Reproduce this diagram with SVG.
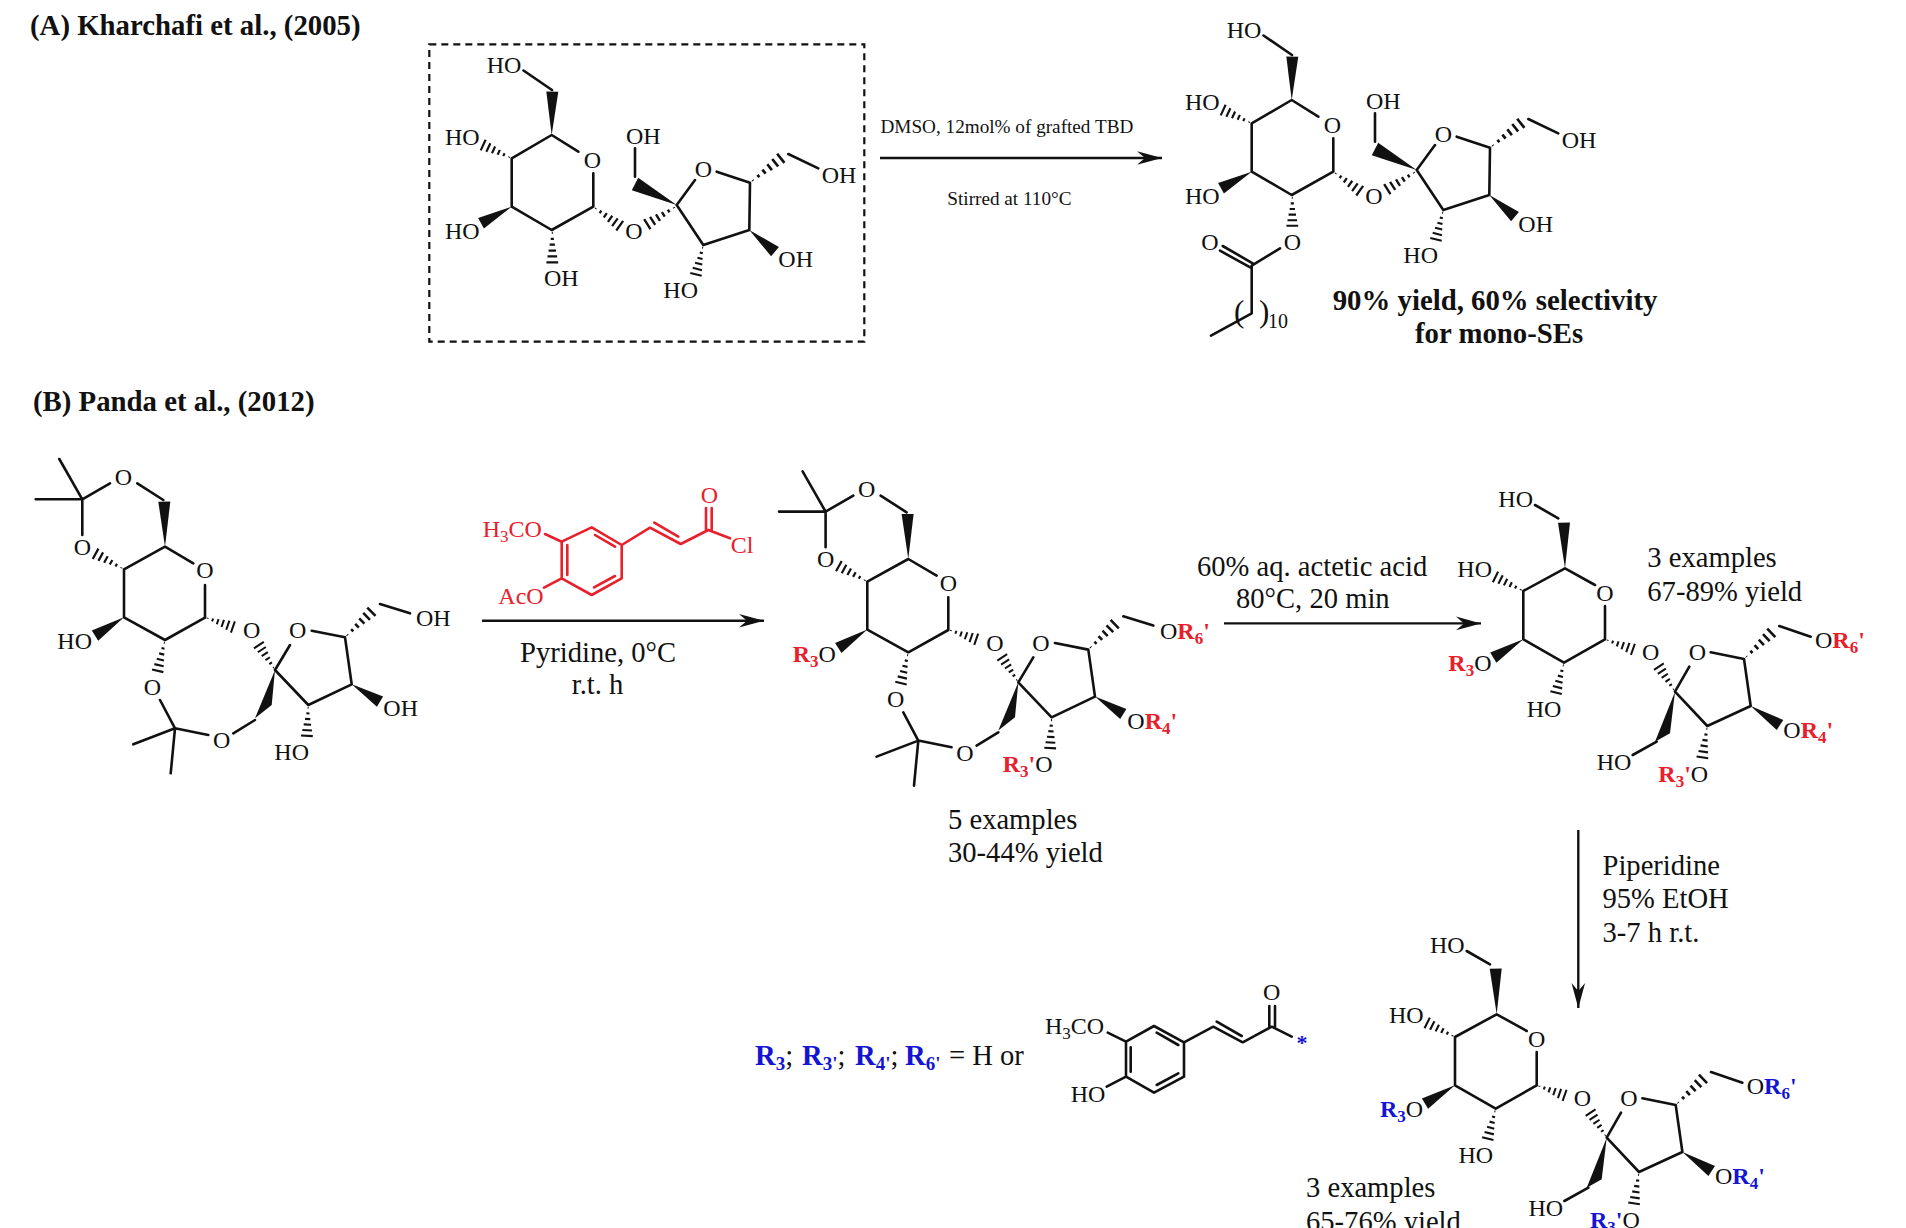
<svg xmlns="http://www.w3.org/2000/svg" width="1906" height="1228" viewBox="0 0 1906 1228">
<style>
text{font-family:"Liberation Serif","Times New Roman",serif;fill:#111}
.a{font-size:24px}
.m{font-size:24px;text-anchor:middle}
.t{font-size:28.6px}
.b{font-size:28.8px;font-weight:bold}
.c{font-size:19.2px}
.r{font-weight:bold;fill:#e8202c}
.u{font-weight:bold;fill:#1414d2}
.s{font-size:17px}
.q{font-size:19px}
.k{fill:none;stroke:#111;stroke-width:2.6;stroke-linecap:round;stroke-linejoin:round}
.ke{fill:none;stroke:#e8202c;stroke-width:2.6;stroke-linecap:round;stroke-linejoin:round}
.rt{fill:#e8202c}
.ar{fill:none;stroke:#111;stroke-width:2.4}
.f{fill:#111;stroke:none}
</style>
<defs>
<path id="w" d="M0 0L1-1V1Z"/>
<path id="h" d="M.05-.08h.06v.16h-.06zM.21-.26h.06v.52h-.06zM.37-.44h.06v.88h-.06zM.53-.62h.06v1.24h-.06zM.69-.8h.06v1.6h-.06zM.85-.98h.06v1.96h-.06z"/>
<marker id="arrow" markerUnits="userSpaceOnUse" markerWidth="26" markerHeight="16" refX="25" refY="8" orient="auto"><path d="M0 1.2L25 8L0 14.8L8 8Z" fill="#111"/></marker>
<g id="coreA" class="f">
<path class="k" d="M552 90L523.5 70.5M578.3 151.7L551.7 135L511.7 158.3V206.7L551.7 230L593.3 206.7V173.3M635 176.7V148.3M695 180L676.7 205L703.3 245L749.3 230L750 182.7L716.7 171.7M788.3 154L818.3 168.3"/>
<use href="#w" transform="matrix(.6 -43.3 6 .1 551.7 135)"/>
<use href="#w" transform="matrix(-30.7 16.6 -2.9 -5.3 511.7 206.7)"/>
<use href="#w" transform="matrix(-41.7 -21 3.2 -6.3 676.7 205)"/>
<use href="#w" transform="matrix(25.7 21.7 -3.9 4.6 749.3 230)"/>
<use href="#h" transform="matrix(-32.4 -15 2.5 -5.4 511.7 158.3)"/>
<use href="#h" transform="matrix(30 21.6 -3.5 4.9 593.3 206.7)"/>
<use href="#h" transform="matrix(-33.4 20.7 -3.2 -5.1 676.7 206)"/>
<use href="#h" transform="matrix(35 -27.7 3.7 4.7 750 182.7)"/>
<use href="#h" transform="matrix(-8.3 33.3 -5.8 -1.45 703.3 245)"/>
</g>
<g id="coreB" class="f">
<path class="k" d="M59.3 459L82.3 499.3L35.7 499.3M82.3 499.3L110 483.3M82.3 499.3V535M137.3 483.3L163.3 500M193.3 563.3L165 546.7L124 569.3V617.3L165 640L205 617.7V585M290 645L275 670L308.3 705L351.7 684.3L345 637.3L311.7 630.7M380 604L410 613.3M255 720L233.3 733.3M208.3 735L175 728.3L160 700M133.3 744.3L175 728.3L170.7 773.3"/>
<use href="#w" transform="matrix(-.7 -45 6 -.1 165 546.7)"/>
<use href="#w" transform="matrix(-29 18.4 -3.2 -5.1 124 617.3)"/>
<use href="#w" transform="matrix(28.3 17.4 -3.1 5.1 351.7 684.3)"/>
<path d="M275 670L271.7 705L255 718.3Z"/>
<use href="#h" transform="matrix(-32.3 -17.6 2.9 -5.3 124 569.3)"/>
<use href="#h" transform="matrix(-8.3 35 -5.8 -1.4 165 640)"/>
<use href="#h" transform="matrix(31.7 11 -2 5.7 205 617.3)"/>
<use href="#h" transform="matrix(-18.3 -28.3 5 -3.3 275 670)"/>
<use href="#h" transform="matrix(30 -29 4.2 4.3 345 637.3)"/>
<use href="#h" transform="matrix(-1.6 35 -6 -.3 308.3 705)"/>
</g>
<g id="coreC" class="f">
<path class="k" d="M1535 505L1558.3 518.3M1595 585L1565 568.3L1523.3 591V639.3L1564 662.7L1605 639.3V606M1689.3 666.7L1675 691.7L1707.3 726L1750.7 706L1744 659L1710.7 652.3M1779.3 626L1810.7 636.7M1656.7 741.7L1632.7 755"/>
<use href="#w" transform="matrix(-1 -45.6 6 -.1 1565 568.3)"/>
<use href="#w" transform="matrix(-30 18.4 -3.1 -5.1 1523.3 639.3)"/>
<use href="#w" transform="matrix(29.3 19 -3.3 5 1750.7 706)"/>
<path d="M1675 691.7L1670 733.3L1655 741.7Z"/>
<use href="#h" transform="matrix(-31.6 -16 2.7 -5.4 1523.3 591)"/>
<use href="#h" transform="matrix(-9 34 -5.8 -1.5 1564 662.7)"/>
<use href="#h" transform="matrix(31.7 11.4 -2 5.7 1605 639.3)"/>
<use href="#h" transform="matrix(-18.3 -28.4 5 -3.3 1675 691.7)"/>
<use href="#h" transform="matrix(31 -29.7 4.15 4.33 1744 659)"/>
<use href="#h" transform="matrix(-5.6 35.7 -5.9 -.9 1707.3 726)"/>
</g>
</defs>
<rect width="1906" height="1228" fill="#fff"/>

<g id="headers">
<text class="b" x="30" y="35">(A) Kharchafi et al., (2005)</text>
<text class="b" x="33" y="411">(B) Panda et al., (2012)</text>
</g>

<g id="connectors">
<line class="ar" x1="880" y1="158" x2="1162" y2="158" marker-end="url(#arrow)"/>
<line class="ar" x1="482" y1="620.7" x2="764" y2="620.7" marker-end="url(#arrow)"/>
<line class="ar" x1="1224" y1="623.4" x2="1481" y2="623.4" marker-end="url(#arrow)"/>
<line class="ar" x1="1578.3" y1="830" x2="1578.3" y2="1008" marker-end="url(#arrow)"/>
</g>

<g id="molA1">
<rect x="429.3" y="44.3" width="435" height="297.4" fill="none" stroke="#111" stroke-width="2.2" stroke-dasharray="7 5"/>
<use href="#coreA"/>
<use href="#h" class="f" transform="matrix(0 36.7 -6 0 552.3 230)"/>
<text class="a" x="486.7" y="72.7">HO</text>
<text class="a" x="445" y="145">HO</text>
<text class="a" x="445" y="239">HO</text>
<text class="a" x="544" y="286">OH</text>
<text class="m" x="592.3" y="167.7">O</text>
<text class="a" x="626" y="144">OH</text>
<text class="m" x="703.3" y="176.7">O</text>
<text class="m" x="634" y="239">O</text>
<text class="a" x="821.7" y="182.7">OH</text>
<text class="a" x="778.3" y="266.7">OH</text>
<text class="a" x="663.3" y="298.3">HO</text>
</g>

<g id="condA">
<text class="c" x="880.5" y="133.3">DMSO, 12mol% of grafted TBD</text>
<text class="c" x="947.3" y="205">Stirred at 110°C</text>
</g>

<g id="molA2">
<use href="#coreA" transform="translate(740 -35)"/>
<use href="#h" class="f" transform="matrix(0 35 -6 0 1292.3 195)"/>
<path class="k" d="M1280 248.3L1251.7 265.7V313.3L1211 335.7M1250.7 267.7L1220 250.7M1252.7 263.3L1222.7 246"/>
<text class="a" x="1226.7" y="37.7">HO</text>
<text class="a" x="1185" y="110">HO</text>
<text class="a" x="1185" y="204">HO</text>
<text class="m" x="1332.3" y="132.7">O</text>
<text class="a" x="1366" y="109">OH</text>
<text class="m" x="1443.3" y="141.7">O</text>
<text class="m" x="1374" y="204">O</text>
<text class="a" x="1561.7" y="147.7">OH</text>
<text class="a" x="1518.3" y="231.7">OH</text>
<text class="a" x="1403.3" y="263.3">HO</text>
<text class="m" x="1292.3" y="250">O</text>
<text class="m" x="1210" y="250">O</text>
<text x="1234" y="322" font-size="31">(</text>
<text x="1259" y="322" font-size="31">)</text>
<text x="1268" y="327.5" font-size="20">10</text>
<text class="b" x="1332.7" y="310">90% yield, 60% selectivity</text>
<text class="b" x="1415" y="343.3">for mono-SEs</text>
</g>

<g id="molB1">
<use href="#coreB"/>
<text class="m" x="123.3" y="485">O</text>
<text class="m" x="205" y="578.3">O</text>
<text class="m" x="82.3" y="555">O</text>
<text class="a" x="57.3" y="649">HO</text>
<text class="m" x="251.7" y="638.3">O</text>
<text class="m" x="297.7" y="638.3">O</text>
<text class="a" x="416" y="626">OH</text>
<text class="a" x="383.3" y="716">OH</text>
<text class="a" x="274.3" y="760">HO</text>
<text class="m" x="221.7" y="748.3">O</text>
<text class="m" x="152.3" y="695">O</text>
</g>

<g id="reagent">
<path class="ke" d="M561.7 541.7L591.7 527.3L621.7 545V578.3L591.7 595L561.7 578.3ZM567.3 545V575M595 535L615 546.7M615 576L594 587.3M621.7 545L650 527.7L680.7 544L708.3 530L730 538.3M654.3 522.7L678.3 536.7M706 530V508M711.7 530V508M561.7 541.7L545 534M561.7 578.3L544 587.7"/>
<text class="m rt" x="709.3" y="503">O</text>
<text class="a rt" x="730.7" y="553">Cl</text>
<text class="a rt" x="482.7" y="536.7">H<tspan class="s rt" dy="5">3</tspan><tspan class="rt" dy="-5">CO</tspan></text>
<text class="a rt" x="498.3" y="604">AcO</text>
</g>
<g id="condB1">
<text class="t" x="520" y="661.7">Pyridine, 0°C</text>
<text class="t" x="571.7" y="694">r.t. h</text>
</g>

<g id="molB2">
<use href="#coreB" transform="translate(743.3 12.3)"/>
<text class="m" x="866.6" y="497.3">O</text>
<text class="m" x="948.3" y="590.6">O</text>
<text class="m" x="825.6" y="567.3">O</text>
<text class="a" x="792.7" y="661.7"><tspan class="r">R<tspan class="s" dy="5">3</tspan></tspan><tspan dy="-5">O</tspan></text>
<text class="m" x="995" y="650.6">O</text>
<text class="m" x="1041" y="650.6">O</text>
<text class="a" x="1160" y="639.3">O<tspan class="r">R<tspan class="s" dy="5">6</tspan><tspan dy="-5">'</tspan></tspan></text>
<text class="a" x="1127.3" y="729.3">O<tspan class="r">R<tspan class="s" dy="5">4</tspan><tspan dy="-5">'</tspan></tspan></text>
<text class="a" x="1002.7" y="771.7"><tspan class="r">R<tspan class="s" dy="5">3</tspan><tspan dy="-5">'</tspan></tspan>O</text>
<text class="m" x="965" y="760.6">O</text>
<text class="m" x="895.6" y="707.3">O</text>
<text class="t" x="948" y="829">5 examples</text>
<text class="t" x="948" y="862">30-44% yield</text>
</g>

<g id="condB2">
<text class="t" x="1197" y="576">60% aq. actetic acid</text>
<text class="t" x="1236" y="608">80°C, 20 min</text>
</g>

<g id="molB3">
<use href="#coreC"/>
<text class="a" x="1498.3" y="506.7">HO</text>
<text class="m" x="1605" y="600.7">O</text>
<text class="a" x="1457.3" y="577.3">HO</text>
<text class="a" x="1448.3" y="671"><tspan class="r">R<tspan class="s" dy="5">3</tspan></tspan><tspan dy="-5">O</tspan></text>
<text class="a" x="1526.7" y="717.3">HO</text>
<text class="m" x="1650.7" y="660">O</text>
<text class="m" x="1697.3" y="660">O</text>
<text class="a" x="1815" y="648.3">O<tspan class="r">R<tspan class="s" dy="5">6</tspan><tspan dy="-5">'</tspan></tspan></text>
<text class="a" x="1783.3" y="738.3">O<tspan class="r">R<tspan class="s" dy="5">4</tspan><tspan dy="-5">'</tspan></tspan></text>
<text class="a" x="1658.3" y="781.7"><tspan class="r">R<tspan class="s" dy="5">3</tspan><tspan dy="-5">'</tspan></tspan>O</text>
<text class="a" x="1596.7" y="770">HO</text>
<text class="t" x="1647.3" y="567.3">3 examples</text>
<text class="t" x="1647.3" y="600.7">67-89% yield</text>
</g>

<g id="condB3">
<text class="t" x="1602.5" y="875">Piperidine</text>
<text class="t" x="1602.5" y="908">95% EtOH</text>
<text class="t" x="1602.5" y="941.5">3-7 h r.t.</text>
</g>

<g id="formula">
<text class="t" x="755" y="1065"><tspan class="u">R<tspan class="q" dy="5">3</tspan></tspan><tspan dy="-5">;</tspan><tspan class="u" x="802">R<tspan class="q" dy="5">3'</tspan></tspan><tspan dy="-5">;</tspan><tspan class="u" x="855">R<tspan class="q" dy="5">4'</tspan></tspan><tspan dy="-5">;</tspan><tspan class="u" x="905">R<tspan class="q" dy="5">6'</tspan></tspan><tspan dy="-5" x="949">= H or</tspan></text>
</g>

<g id="ferulate">
<path class="k" d="M1126 1041.7L1154 1026L1184 1042.3V1076.7L1154 1092.7L1126 1076.7ZM1130.7 1047.3V1071.7M1156.7 1032.7L1178.3 1045M1178.3 1073.3L1156.7 1085M1184 1042.3L1213.3 1026.7L1242.7 1042.3L1271.7 1026.7L1291.7 1036.7M1216.7 1021.7L1241.7 1036M1269.3 1026.7V1006M1275 1026.7V1006M1126 1041.7L1107.7 1032.7M1126 1076.7L1106.7 1086.7"/>
<text class="m" x="1271.7" y="1000">O</text>
<text class="a" x="1045" y="1034.3">H<tspan class="s" dy="5">3</tspan><tspan dy="-5">CO</tspan></text>
<text class="a" x="1070.7" y="1101.7">HO</text>
<text x="1296.5" y="1049.6" font-size="22" font-weight="bold" style="fill:#1414d2">*</text>
</g>

<g id="molB4">
<use href="#coreC" transform="translate(-68.3 446)"/>
<text class="a" x="1430" y="952.7">HO</text>
<text class="m" x="1536.7" y="1046.7">O</text>
<text class="a" x="1389" y="1023.3">HO</text>
<text class="a" x="1380" y="1117"><tspan class="u">R<tspan class="s" dy="5">3</tspan></tspan><tspan dy="-5">O</tspan></text>
<text class="a" x="1458.4" y="1163.3">HO</text>
<text class="m" x="1582.4" y="1106">O</text>
<text class="m" x="1629" y="1106">O</text>
<text class="a" x="1746.7" y="1094.3">O<tspan class="u">R<tspan class="s" dy="5">6</tspan><tspan dy="-5">'</tspan></tspan></text>
<text class="a" x="1715" y="1184.3">O<tspan class="u">R<tspan class="s" dy="5">4</tspan><tspan dy="-5">'</tspan></tspan></text>
<text class="a" x="1590" y="1227.7"><tspan class="u">R<tspan class="s" dy="5">3</tspan><tspan dy="-5">'</tspan></tspan>O</text>
<text class="a" x="1528.4" y="1216">HO</text>
<text class="t" x="1306" y="1196.7">3 examples</text>
<text class="t" x="1306" y="1231">65-76% yield</text>
</g>
</svg>
